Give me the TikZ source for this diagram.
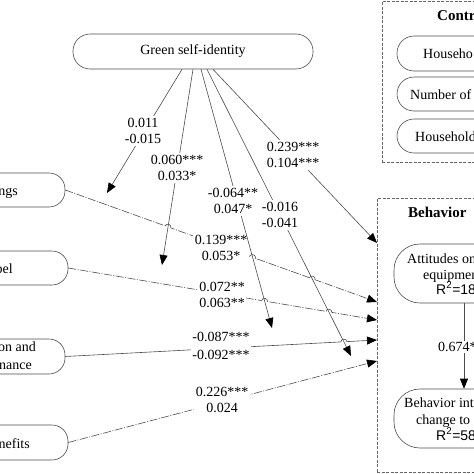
\documentclass[tikz,border=0pt]{standalone}
\usepackage{fontspec}
\setmainfont{Liberation Serif}
\newfontfamily\rsans{Liberation Sans}
\usetikzlibrary{arrows.meta,calc,intersections}
\begin{document}
\begin{tikzpicture}[x=1pt,y=-1pt,
  font=\fontsize{14}{16.5}\selectfont,
  rbox/.style={draw=black!70, line width=0.6pt, rounded corners=16pt, minimum height=34pt, inner sep=0pt},
  frag/.style={anchor=base west, inner sep=0pt},
  fragr/.style={anchor=base east, inner sep=0pt},
  lbl/.style={fill=white, align=center, inner sep=1.5pt},
  tip/.style={-{Triangle[length=10pt,width=8pt,color=black]}},
  modl/.style={draw=black!70, line width=0.6pt, tip},
  pathl/.style={draw=black!70, line width=0.6pt, dash pattern=on 8pt off 1.5pt on 1pt off 1.5pt, tip},
  soll/.style={draw=black!70, line width=0.6pt, tip},
  grp/.style={draw=black!60, line width=0.6pt, dash pattern=on 3pt off 1.5pt, inner sep=0pt},
  hop/.style={draw=black!70, line width=0.6pt},
  ttl/.style={anchor=base west, inner sep=0pt, font=\fontsize{15}{17}\selectfont\bfseries}
]
\useasboundingbox (0,0) rectangle (474,474);
\clip (0,0) rectangle (474,474);

% group boxes
\node[grp, minimum width=180pt, minimum height=161pt] (cbox) at (472,81.5) {};
\node[grp, minimum width=180pt, minimum height=274pt] (bbox) at (467,335) {};

% control group
\node[ttl] (ct) at (437,20) {Contr};
\node[rbox, minimum width=160pt, minimum height=35pt, rounded corners=17pt] (c1) at (477,53.5) {};
\node[rbox, minimum width=160pt, minimum height=34pt, rounded corners=17pt] (c2) at (477,94) {};
\node[rbox, minimum width=160pt, minimum height=34pt, rounded corners=17pt] (c3) at (477,136) {};
\node[frag] (c1t) at (423,58) {Househo};
\node[frag] (c2t) at (410,99) {Number of};
\node[frag] (c3t) at (415,141) {Household};

% behavior group
\node[ttl] (bt) at (408,217) {Behavior};
\node[rbox, minimum width=140pt, minimum height=59pt, rounded corners=26pt] (a1) at (464,273.5) {};
\node[rbox, minimum width=140pt, minimum height=59pt, rounded corners=26pt] (a2) at (464,418.5) {};
\node[frag] (a1t) at (407,263) {Attitudes on};
\node[frag] (a1u) at (423,279) {equipmen};
\node[frag, font=\fontsize{14}{16}\rsans] (a1v) at (436,294) {R\textsuperscript{2}=18.};
\node[frag] (a2t) at (404,407) {Behavior int};
\node[frag] (a2u) at (416,424.5) {change to};
\node[frag, font=\fontsize{14}{16}\rsans] (a2v) at (436,440) {R\textsuperscript{2}=58.};
\draw[soll] (a1) -- (a2);
\node[lbl, anchor=west, inner sep=1pt] (l674) at (437,347) {0.674*};

% green self-identity and left constructs
\node[rbox, minimum width=240pt, minimum height=35pt, rounded corners=17pt] (g) at (193,51.5) {Green self-identity};
\node[rbox, minimum width=160pt] (n1) at (-15,190) {};
\node[fragr] (n1t) at (18,195) {ngs};
\node[rbox, minimum width=160pt] (n2) at (-12,268) {};
\node[fragr] (n2t) at (13,273) {bel};
\node[rbox, minimum width=160pt, minimum height=35pt] (n3) at (-15,356.5) {};
\node[fragr] (n3t) at (36,351) {on and};
\node[fragr] (n3u) at (32,369) {nance};
\node[rbox, minimum width=160pt, minimum height=35pt] (n4) at (-12,442.5) {};
\node[fragr] (n4t) at (30,448) {nefits};

% end points
\coordinate (m1) at (107,193);
\coordinate (m2) at (162,265);
\coordinate (m3) at (272,328);
\coordinate (m4) at (351,356);
\coordinate (e0) at (377,243);
\coordinate (e1) at (377,302);
\coordinate (e2) at (377,320);
\coordinate (e3) at (377,340);
\coordinate (e4) at (377,361);

% direct paths
\draw[pathl, name path=L1] (n1.east) -- (e1);
\draw[pathl, name path=L2] (n2.east) -- (e2);
\draw[soll, name path=L3] (n3.east) -- (e3);
\draw[pathl, name path=L4] (n4.east) -- (e4);
\node[lbl] (ll1) at (221,248) {0.139***\\0.053*};
\node[lbl] (ll2) at (222,295) {0.072**\\0.063**};
\node[lbl, font=\fontsize{14}{18}\selectfont] (ll3) at (221,346) {-0.087***\\-0.092***};
\node[lbl] (ll4) at (222,400) {0.226***\\0.024};

% crossings
\path[name path=M2] (g.south) -- (m2);
\path[name path=M3] ([xshift=8pt]g.south) -- (m3);
\path[name path=M4] ([xshift=14pt]g.south) -- (m4);
\path[name intersections={of=L1 and M2, by=x12}];
\path[name intersections={of=L1 and M3, by=x13}];
\path[name intersections={of=L1 and M4, by=x14}];
\path[name intersections={of=L2 and M3, by=x23}];
\path[name intersections={of=L2 and M4, by=x24}];
\path[name intersections={of=L3 and M4, by=x34}];
\foreach \p in {x12,x13,x14,x23,x24,x34} \fill[white] (\p) circle (3pt);

% moderating paths
\draw[modl] ([xshift=-11pt]g.south) -- (m1);
\draw[modl] (g.south) -- (m2);
\draw[modl] ([xshift=8pt]g.south) -- (m3);
\draw[modl] ([xshift=14pt]g.south) -- (m4);
\draw[modl] ([xshift=20pt]g.south) -- (e0);
\node[lbl] (lm1) at (143,131) {0.011\\-0.015};
\node[lbl] (lm2) at (177,168) {0.060***\\0.033*};
\node[lbl] (lm3) at (233,201) {-0.064**\\0.047*};
\node[lbl] (lm4) at (280,215) {-0.016\\-0.041};
\node[lbl] (lm5) at (293,155) {0.239***\\0.104***};

% hops
\draw[hop] ($(x12)!3pt!(n1.east)$) to[bend left=90, looseness=1.5] ($(x12)!3pt!(e1)$);
\draw[hop] ($(x13)!3pt!(n1.east)$) to[bend left=90, looseness=1.5] ($(x13)!3pt!(e1)$);
\draw[hop] ($(x14)!3pt!(n1.east)$) to[bend left=90, looseness=1.5] ($(x14)!3pt!(e1)$);
\draw[hop] ($(x23)!3pt!(n2.east)$) to[bend left=90, looseness=1.5] ($(x23)!3pt!(e2)$);
\draw[hop] ($(x24)!3pt!(n2.east)$) to[bend left=90, looseness=1.5] ($(x24)!3pt!(e2)$);
\draw[hop] ($(x34)!3pt!(n3.east)$) to[bend left=90, looseness=1.5] ($(x34)!3pt!(e3)$);
\end{tikzpicture}
\end{document}
